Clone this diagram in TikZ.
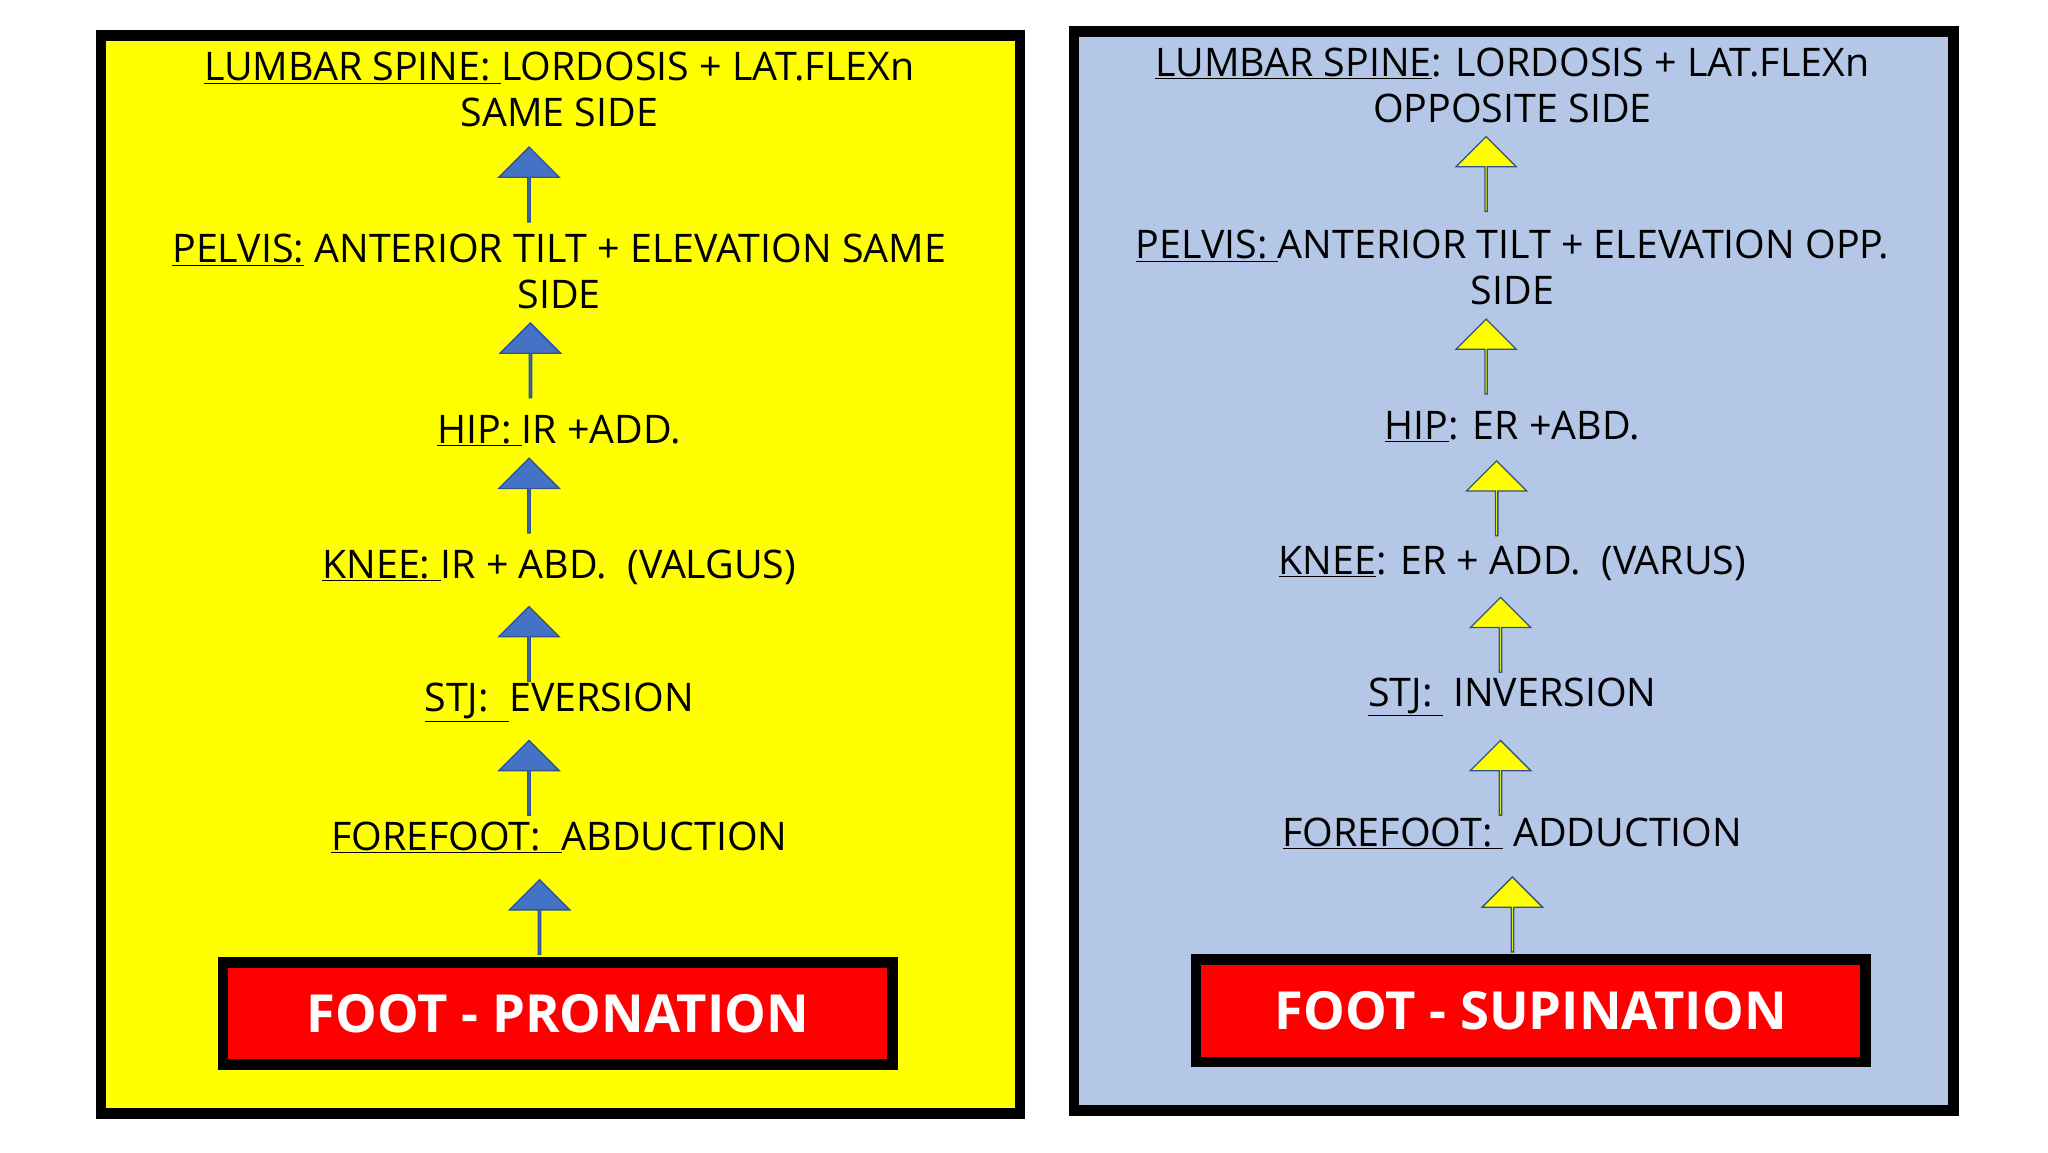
\documentclass[tikz,border=0pt]{standalone}
\usepackage{fontspec}
\setmainfont{Open Sans}
\usetikzlibrary{shapes.arrows}
\definecolor{pyel}{HTML}{FFFF00}
\definecolor{pblue}{HTML}{B4C7E7}
\definecolor{ablue}{HTML}{4472C4}
\definecolor{ablueD}{HTML}{2F528F}
\definecolor{pred}{HTML}{FF0000}
\tikzset{
 panel/.style={draw=black,line width=8pt},
 row/.style={font=\fontsize{30}{35}\selectfont,align=center,inner sep=0pt,anchor=center},
 uparr/.style={single arrow,shape border rotate=90,single arrow head extend=12pt,single arrow tip angle=90,minimum width=46pt,minimum height=57pt,inner sep=0pt,line width=1pt},
 barr/.style={uparr,fill=ablue,draw=ablueD},
 yarr/.style={uparr,fill=pyel,draw=ablueD},
 redbox/.style={fill=pred,draw=black,line width=8pt,minimum width=510pt,minimum height=78pt,text=white,font=\fontsize{40}{44}\selectfont\bfseries,inner sep=0pt},
}
\begin{document}
\begin{tikzpicture}[x=1pt,y=-1pt]
\useasboundingbox (0,0) rectangle (1560,878);
\fill[white] (0,0) rectangle (1560,878);
\draw[panel,fill=pyel] (77,27) rectangle (777,848);
\draw[panel,fill=pblue] (818,24) rectangle (1488,846);
% left
\node[row] (l1) at (426,68) {\underline{LUMBAR SPINE:\ }LORDOSIS + LAT.FLEXn\\SAME SIDE};
\node[barr] (la1) at (403,141) {};
\node[row] (l2) at (426,207) {\underline{PELVIS:} ANTERIOR TILT + ELEVATION SAME\\SIDE};
\node[barr] (la2) at (404,275) {};
\node[row] (l3) at (426,328) {\underline{HIP:\ }IR +ADD.};
\node[barr] (la3) at (403,378) {};
\node[row] (l4) at (426,432) {\underline{KNEE:\ }IR + ABD.\ \ (VALGUS)};
\node[barr] (la4) at (403,491) {};
\node[row] (l5) at (426,535) {\underline{STJ:\ \ }EVERSION};
\node[barr] (la5) at (403,593) {};
\node[row] (l6) at (426,638) {\underline{FOREFOOT:\ \ }ABDUCTION};
\node[barr] (la6) at (411,699) {};
\node[redbox] (lb) at (425,772) {FOOT - PRONATION};
% right
\node[row] (r1) at (1152,65) {\underline{LUMBAR SPINE}: LORDOSIS + LAT.FLEXn\\OPPOSITE SIDE};
\node[yarr] (ra1) at (1132,133) {};
\node[row] (r2) at (1152,204) {\underline{PELVIS:\ }ANTERIOR TILT + ELEVATION OPP.\\SIDE};
\node[yarr] (ra2) at (1132,272) {};
\node[row] (r3) at (1152,325) {\underline{HIP}: ER +ABD.};
\node[yarr] (ra3) at (1140,380) {};
\node[row] (r4) at (1152,429) {\underline{KNEE}: ER + ADD.\ \ (VARUS)};
\node[yarr] (ra4) at (1143,484) {};
\node[row] (r5) at (1152,531) {\underline{STJ:\ }\ INVERSION};
\node[yarr] (ra5) at (1143,593) {};
\node[row] (r6) at (1152,635) {\underline{FOREFOOT:\ }\ ADDUCTION};
\node[yarr] (ra6) at (1152,697) {};
\node[redbox] (rb) at (1166,770) {FOOT - SUPINATION};
\end{tikzpicture}
\end{document}
